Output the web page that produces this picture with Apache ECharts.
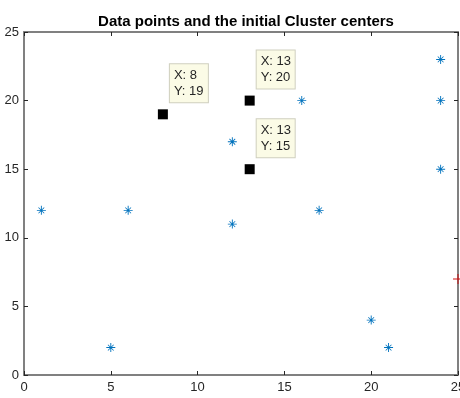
<!DOCTYPE html>
<html>
<head>
<meta charset="utf-8">
<script src="https://cdn.jsdelivr.net/npm/echarts@6/dist/echarts.min.js"></script>
<style>
  html, body { margin: 0; padding: 0; background: #fff; }
  #chart { width: 460px; height: 398px; }
</style>
</head>
<body>
<div id="chart"></div>
<script>
// data points (blue asterisks)
const pointsX = [1, 5, 6, 12, 12, 16, 17, 20, 21, 24, 24, 24]
const pointsY = [12, 2, 12, 17, 11, 20, 12, 4, 2, 23, 20, 15]
// initial cluster centers (black squares with datatips)
const centersX = [8, 13, 13]
const centersY = [19, 20, 15]
// red marker at the right edge
const extraX = [25]
const extraY = [7]

const font = 'Liberation Sans, Arial, Helvetica, sans-serif'
const asterisk = 'path://M9 0L11 0L11 20L9 20Z M0 9L20 9L20 11L0 11Z M3 4.2L4.2 3L17 15.8L15.8 17Z M15.8 3L17 4.2L4.2 17L3 15.8Z'
const plus = 'path://M9 0L11 0L11 20L9 20Z M0 9L20 9L20 11L0 11Z'

const zip = (xs, ys) => xs.map((x, i) => [x, ys[i]])

const axisCommon = {
  type: 'value'
  , min: 0
  , max: 25
  , interval: 5
  , axisLine: { show: true, onZero: false, lineStyle: { color: '#808080', width: 2 } }
  , axisTick: { show: true, inside: true, length: 4, lineStyle: { color: '#262626', width: 1 } }
  , splitLine: { show: false }
}

const chart = echarts.init(document.getElementById('chart'))
chart.setOption({
  animation: false
  , title: {
    text: 'Data points and the initial Cluster centers'
    , left: 241
    , textAlign: 'center'
    , top: 9
    , textStyle: { fontFamily: font, fontSize: 15, fontWeight: 'bold', color: '#000' }
  }
  , grid: { left: 24, right: 2, top: 32, bottom: 23, containLabel: false, outerBoundsMode: 'none' }
  , xAxis: [
    Object.assign({}, axisCommon, {
      position: 'bottom'
      , axisLabel: { fontFamily: font, fontSize: 13, color: '#262626', margin: 6 }
    })
    , Object.assign({}, axisCommon, { position: 'top', axisLabel: { show: false } })
  ]
  , yAxis: [
    Object.assign({}, axisCommon, {
      position: 'left'
      , axisLabel: { fontFamily: font, fontSize: 13, color: '#262626', margin: 5 }
    })
    , Object.assign({}, axisCommon, { position: 'right', axisLabel: { show: false } })
  ]
  , series: [
    {
      type: 'scatter'
      , data: zip(pointsX, pointsY)
      , symbol: asterisk
      , symbolSize: 9
      , itemStyle: { color: '#0072BD', opacity: 1 }
    }
    , {
      type: 'scatter'
      , data: zip(centersX, centersY)
      , symbol: 'rect'
      , symbolSize: 10
      , itemStyle: { color: '#000', opacity: 1 }
      , label: {
        show: true
        , position: [12, -45]
        , formatter: (p) => 'X: ' + p.value[0] + '\nY: ' + p.value[1]
        , fontFamily: font
        , fontSize: 13
        , lineHeight: 16
        , color: '#262626'
        , backgroundColor: '#fbfbe6'
        , borderColor: '#cfcfbf'
        , borderWidth: 1
        , padding: [3, 4, 3, 4]
        , width: 30
      }
    }
    , {
      type: 'scatter'
      , data: zip(extraX, extraY)
      , symbol: plus
      , symbolSize: 10
      , itemStyle: { color: '#d01010', opacity: 1 }
    }
  ]
})
</script>
</body>
</html>
